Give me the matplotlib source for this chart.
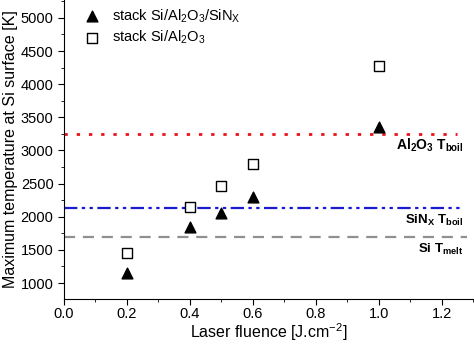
import matplotlib
matplotlib.use("Agg")
import matplotlib.pyplot as plt
from matplotlib.ticker import MultipleLocator

plt.rcParams['font.family'] = ['Liberation Sans', 'DejaVu Sans']
plt.rcParams['mathtext.fontset'] = 'custom'
plt.rcParams['mathtext.rm'] = 'Liberation Sans'
plt.rcParams['mathtext.it'] = 'Liberation Sans'
plt.rcParams['mathtext.bf'] = 'Liberation Sans:bold'

fluence_tri = [0.2, 0.4, 0.5, 0.6, 1.0]
temp_tri = [1150, 1850, 2050, 2300, 3350]
fluence_sq = [0.2, 0.4, 0.5, 0.6, 1.0]
temp_sq = [1460, 2140, 2460, 2800, 4280]
al2o3_boil = 3250
sinx_boil = 2125
si_melt = 1700

fig = plt.figure(figsize=(4.74, 3.44), dpi=100)
ax = fig.add_axes([0.135, 0.131, 0.863, 0.869])

ax.plot([0, 1.25], [al2o3_boil] * 2, color='#e8141c', ls=(0, (1.2, 3.2)), lw=2.0)
ax.plot([0, 1.27], [sinx_boil] * 2, color='#1a1ad0', ls=(0, (6, 2, 1.5, 2, 1.5, 2)), lw=1.6)
ax.plot([0, 1.28], [si_melt] * 2, color='#909090', ls=(0, (5, 3.5)), lw=1.6)

ax.scatter(fluence_tri, temp_tri, marker='^', s=60, color='black', zorder=3,
           label=r'stack Si/Al$_2$O$_3$/SiN$_X$')
ax.scatter(fluence_sq, temp_sq, marker='s', s=42, facecolor='white', edgecolor='black',
           linewidths=1.0, zorder=3, label=r'stack Si/Al$_2$O$_3$')

ax.text(1.27, 3080, r'$\mathbf{Al_2O_3\ T_{boil}}$', ha='right', va='center', fontsize=10)
ax.text(1.27, 1940, r'$\mathbf{SiN_X\ T_{boil}}$', ha='right', va='center', fontsize=9.5)
ax.text(1.27, 1510, r'$\mathbf{Si\ T_{melt}}$', ha='right', va='center', fontsize=9.5)

ax.set_xlim(0, 1.3)
ax.set_ylim(760, 5270)
ax.xaxis.set_major_locator(MultipleLocator(0.2))
ax.xaxis.set_minor_locator(MultipleLocator(0.1))
ax.yaxis.set_major_locator(MultipleLocator(500))
ax.yaxis.set_minor_locator(MultipleLocator(250))
ax.xaxis.set_major_formatter(matplotlib.ticker.FormatStrFormatter('%.1f'))
ax.tick_params(which='both', direction='out', labelsize=10.5)
ax.tick_params(which='major', length=4)
ax.tick_params(which='minor', length=2.5)
ax.tick_params(axis='x', pad=2)
for s in ['top', 'right']:
    ax.spines[s].set_visible(False)

ax.set_xlabel(r'Laser fluence [J.cm$^{-2}$]', fontsize=11.5, labelpad=0)
ax.set_ylabel('Maximum temperature at Si surface [K]', fontsize=11.5, labelpad=2)

ax.legend(loc='upper left', bbox_to_anchor=(0.0, 1.02), frameon=False, fontsize=10.5,
          handletextpad=0.4, labelspacing=0.3)

fig.savefig('out.png', dpi=100)
